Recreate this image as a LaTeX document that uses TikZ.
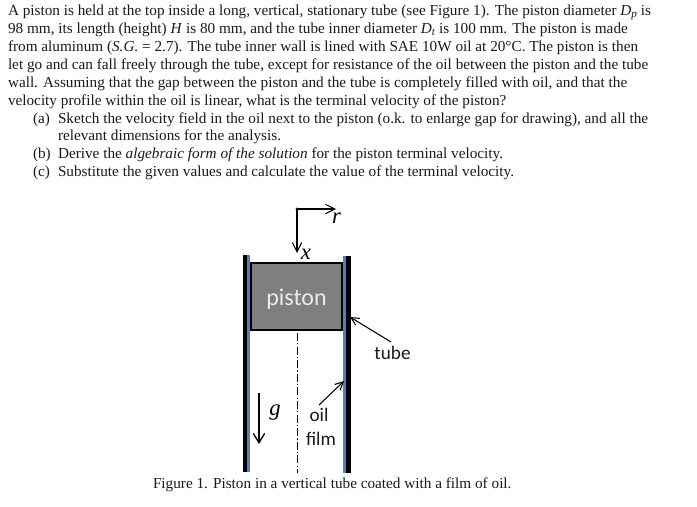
\documentclass[tikz,border=0pt]{standalone}
\usepackage{fontspec}
\setmainfont{Liberation Serif}
\newfontfamily\labelfont{Carlito}
\usetikzlibrary{arrows.meta}
\definecolor{tubeblue}{HTML}{4F81BD}
\definecolor{pistongray}{HTML}{7F7F7F}
\definecolor{inkgray}{HTML}{1A1A1A}
\newcommand{\subvar}[2]{\textit{#1}\raisebox{-0.3ex}{\fontsize{8.4}{9}\selectfont\textit{#2}}}
\tikzset{
  x=0.75pt,y=-0.75pt,
  para/.style={anchor=base west,inner sep=0pt,outer sep=0pt,font=\fontsize{11.43}{13}\selectfont,text=inkgray},
  lab/.style={inner sep=0pt,outer sep=0pt,font=\labelfont\fontsize{14.4}{16}\selectfont,text=inkgray},
  mathlab/.style={inner sep=0pt,outer sep=0pt,font=\fontsize{17}{18}\selectfont\itshape,text=black},
  wall/.style={line width=3.1pt,black,line cap=butt},
  film/.style={line width=2.6pt,tubeblue,line cap=butt},
  barb/.style={-{Straight Barb[length=7pt,width=7pt]},line width=0.8pt,black},
  axisline/.style={line width=0.45pt,black,dash pattern=on 6pt off 1.6pt on 1pt off 1.6pt},
}
\begin{document}
\begin{tikzpicture}
\useasboundingbox (0,0) rectangle (697,507);
\fill[white] (0,0) rectangle (697,507);
% text
\node[para] (l1) at (8,15) {A piston is held at the top inside a long, vertical, stationary tube (see Figure 1). The piston diameter \subvar{D}{p} is};
\node[para] (l2) at (8,33) {98 mm, its length (height) \textit{H} is 80 mm, and the tube inner diameter \subvar{D}{t} is 100 mm. The piston is made};
\node[para] (l3) at (8,51.5) {from aluminum (\textit{S.G.} = 2.7). The tube inner wall is lined with SAE 10W oil at 20°C. The piston is then};
\node[para] (l4) at (8,69.5) {let go and can fall freely through the tube, except for resistance of the oil between the piston and the tube};
\node[para] (l5) at (8,87.5) {wall. Assuming that the gap between the piston and the tube is completely filled with oil, and that the};
\node[para] (l6) at (8,105) {velocity profile within the oil is linear, what is the terminal velocity of the piston?};
\node[para] (l7a) at (33,123) {(a)};
\node[para] (l7) at (58,123) {Sketch the velocity field in the oil next to the piston (o.k. to enlarge gap for drawing), and all the};
\node[para] (l8) at (58,140) {relevant dimensions for the analysis.};
\node[para] (l9a) at (33,158) {(b)};
\node[para] (l9) at (58,158) {Derive the \textit{algebraic form of the solution} for the piston terminal velocity.};
\node[para] (l10a) at (33,176) {(c)};
\node[para] (l10) at (58,176) {Substitute the given values and calculate the value of the terminal velocity.};
\node[para] (cap) at (153,488) {Figure 1. Piston in a vertical tube coated with a film of oil.};
% centre line
\coordinate (axT) at (297,333);
\coordinate (axB) at (297,473);
\draw[axisline] (axT) -- (axB);
% tube
\coordinate (lwT) at (245,255); \coordinate (lwB) at (245,472);
\coordinate (lfT) at (248.5,255); \coordinate (lfB) at (248.5,472);
\coordinate (rwT) at (348.5,256); \coordinate (rwB) at (348.5,473);
\coordinate (rfT) at (345,256); \coordinate (rfB) at (345,473);
\draw[film] (lfT) -- (lfB);
\draw[film] (rfT) -- (rfB);
\draw[wall] (lwT) -- (lwB);
\draw[wall] (rwT) -- (rwB);
% piston
\node[draw=black,line width=1.6pt,fill=pistongray,minimum width=68pt,minimum height=50.2pt,inner sep=0pt] (piston) at (296.5,296.5) {};
\node[inner sep=0pt,font=\labelfont\fontsize{18}{20}\selectfont,text=white!92!black] (pistonlabel) at (296.5,299) {piston};
% axes
\coordinate (o) at (297,209);
\fill[black!85] (o) circle (1.2pt);
\coordinate (rEnd) at (336,209);
\coordinate (xEnd) at (297,253);
\draw[barb] (o) -- (rEnd);
\draw[barb] (o) -- (xEnd);
\node[mathlab] (rlab) at (336.5,218) {r};
\node[mathlab] (xlab) at (306,254) {x};
% labels
\node[lab] (tube) at (392.5,353) {tube};
\node[lab] (oil) at (319,414.5) {oil};
\node[lab] (filmlab) at (321,438.5) {film};
\coordinate (tubeTip) at (350,317);
\coordinate (tubeStart) at (391,342);
\coordinate (oilTip) at (344,381);
\coordinate (oilStart) at (319,405);
\draw[barb,-{Straight Barb[length=6pt,width=6pt]}] (tubeStart) -- (tubeTip);
\draw[barb,-{Straight Barb[length=6pt,width=6pt]}] (oilStart) -- (oilTip);
% gravity
\coordinate (gT) at (259,393);
\coordinate (gB) at (259,444);
\draw[line width=1pt,black,-{Straight Barb[length=7pt,width=8.5pt]}] (gT) -- (gB);
\node[mathlab] (glab) at (275,413) {g};
\end{tikzpicture}
\end{document}
